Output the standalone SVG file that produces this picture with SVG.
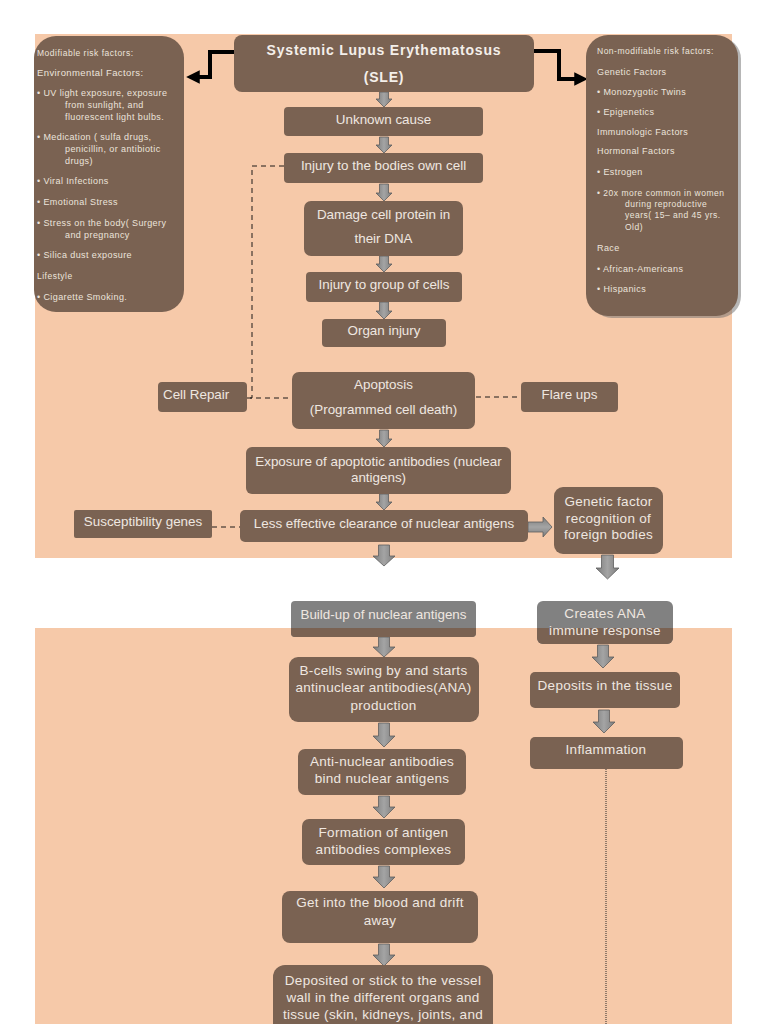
<svg xmlns="http://www.w3.org/2000/svg" width="768" height="1024" viewBox="0 0 768 1024">
<defs>
<style>
.bg{fill:#f6c9a9}
.box{fill:#7a6252}
.gbox{fill:#818181}
.side{fill:#7a6252}
.t{font-family:"Liberation Sans",Arial,sans-serif;font-size:13.4px;fill:#efe7e0;text-anchor:middle}
.t2{font-family:"Liberation Sans",Arial,sans-serif;font-size:13.5px;letter-spacing:0.3px;fill:#efe7e0;text-anchor:middle}
.title{font-family:"Liberation Sans",Arial,sans-serif;font-size:14px;font-weight:bold;letter-spacing:0.8px;fill:#f4efea;text-anchor:middle}
.s{font-family:"Liberation Sans",Arial,sans-serif;font-size:9px;letter-spacing:0.4px;fill:#ece4dc}
.sh{font-family:"Liberation Sans",Arial,sans-serif;font-size:8.5px;letter-spacing:0.5px;fill:#ece4dc}
.arr{fill:url(#ag);stroke:#5e5e5e;stroke-width:0.8}
.dash{fill:none;stroke:#1e1a18;stroke-width:1;stroke-dasharray:5 4}
.elbow{fill:none;stroke:#000;stroke-width:4}
.dot{fill:none;stroke:#2a2a2a;stroke-width:1;stroke-dasharray:1 1}
</style>
<linearGradient id="ag" x1="0" y1="0" x2="1" y2="0">
<stop offset="0" stop-color="#7c7c7c"/>
<stop offset="0.5" stop-color="#a4a4a4"/>
<stop offset="1" stop-color="#7c7c7c"/>
</linearGradient>
<linearGradient id="agh" x1="0" y1="0" x2="0" y2="1">
<stop offset="0" stop-color="#7c7c7c"/>
<stop offset="0.5" stop-color="#a4a4a4"/>
<stop offset="1" stop-color="#7c7c7c"/>
</linearGradient>
<marker id="bh" viewBox="0 0 10 10" refX="2" refY="5" markerWidth="3.8" markerHeight="3.4" orient="auto">
<path d="M0,0 L10,5 L0,10 Z" fill="#000"/>
</marker>
<clipPath id="lower"><rect x="0" y="628" width="768" height="396"/></clipPath>
</defs>

<rect width="768" height="1024" fill="#ffffff"/>
<rect class="bg" x="35" y="34" width="697" height="524"/>
<rect class="bg" x="35" y="628" width="697" height="396"/>

<g id="connectors">
<path class="elbow" d="M234,52 H210 V77 H197" marker-end="url(#bh)"/>
<path class="elbow" d="M534,51 H559 V79 H577" marker-end="url(#bh)"/>
<path class="dash" d="M284,166 H252 V398 H247"/>
<path class="dash" d="M247,398 H292"/>
<path class="dash" d="M476,397 H521"/>
<path class="dash" d="M212,527 H240"/>
<path class="dot" d="M606,769 V1024"/>
<path class="arr" d="M379.5,92 H388.5 V99 H392 L384,107 L376,99 H379.5 Z"/>
<path class="arr" d="M379.5,137 H388.5 V145 H392 L384,153 L376,145 H379.5 Z"/>
<path class="arr" d="M379.5,184 H388.5 V193 H392 L384,201 L376,193 H379.5 Z"/>
<path class="arr" d="M379.5,256 H388.5 V264 H392 L384,272 L376,264 H379.5 Z"/>
<path class="arr" d="M379.5,302 H388.5 V311 H392 L384,319 L376,311 H379.5 Z"/>
<path class="arr" d="M379.5,430 H388.5 V439 H392 L384,447 L376,439 H379.5 Z"/>
<path class="arr" d="M379.5,494 H388.5 V502 H392 L384,510 L376,502 H379.5 Z"/>
<path d="M528,522 H543 V517 L552,527 L543,537 V532 H528 Z" fill="url(#agh)" stroke="#5e5e5e" stroke-width="0.8"/>
<path class="arr" d="M378.5,545 H389.5 V556 H395 L384,566 L373,556 H378.5 Z"/>
<path class="arr" d="M601.5,555 H613.5 V568 H619 L607.5,579 L596,568 H601.5 Z"/>
<path class="arr" d="M378.5,637 H389.5 V647 H395 L384,657 L373,647 H378.5 Z"/>
<path class="arr" d="M597.5,645 H608.5 V657 H614 L603,668 L592,657 H597.5 Z"/>
<path class="arr" d="M598.5,710 H609.5 V722 H615 L604,733 L593,722 H598.5 Z"/>
<path class="arr" d="M378.5,723 H389.5 V736 H395 L384,747 L373,736 H378.5 Z"/>
<path class="arr" d="M378.5,796 H389.5 V807 H395 L384,818 L373,807 H378.5 Z"/>
<path class="arr" d="M378.5,866 H389.5 V877 H395 L384,888 L373,877 H378.5 Z"/>
<path class="arr" d="M378.5,944 H389.5 V955 H395 L384,966 L373,955 H378.5 Z"/>
</g>

<g id="modifiable">
<rect class="side" x="34" y="36" width="150" height="276" rx="22"/>
<text class="sh" x="37" y="55.5">Modifiable risk factors:</text>
<text class="s" x="37" y="75.5" style="font-size:9.5px">Environmental Factors:</text>
<text class="s" x="37" y="96">• UV light exposure, exposure</text>
<text class="s" x="65" y="108">from sunlight, and</text>
<text class="s" x="65" y="120">fluorescent light bulbs.</text>
<text class="s" x="37" y="140">• Medication ( sulfa drugs,</text>
<text class="s" x="65" y="152">penicillin, or antibiotic</text>
<text class="s" x="65" y="164">drugs)</text>
<text class="s" x="37" y="184">• Viral Infections</text>
<text class="s" x="37" y="205">• Emotional Stress</text>
<text class="s" x="37" y="226">• Stress on the body( Surgery</text>
<text class="s" x="65" y="238">and pregnancy</text>
<text class="s" x="37" y="258">• Silica dust exposure</text>
<text class="sh" x="37" y="279">Lifestyle</text>
<text class="s" x="37" y="300">• Cigarette Smoking.</text>
</g>

<g id="nonmodifiable">
<rect x="590" y="37" width="151" height="281" rx="22" fill="#6d6d6d" opacity="0.5"/>
<rect class="side" x="586" y="35" width="152" height="281" rx="22"/>
<text class="sh" x="597" y="54">Non-modifiable risk factors:</text>
<text class="s" x="597" y="74.5">Genetic Factors</text>
<text class="s" x="597" y="94.5">• Monozygotic Twins</text>
<text class="s" x="597" y="114.5">• Epigenetics</text>
<text class="s" x="597" y="134.5">Immunologic Factors</text>
<text class="s" x="597" y="154">Hormonal Factors</text>
<text class="s" x="597" y="175">• Estrogen</text>
<text class="sh" x="597" y="195.5">• 20x more common in women</text>
<text class="sh" x="625" y="206.5">during reproductive</text>
<text class="sh" x="625" y="218">years( 15– and 45 yrs.</text>
<text class="sh" x="625" y="230">Old)</text>
<text class="s" x="597" y="251">Race</text>
<text class="s" x="597" y="271.5">• African-Americans</text>
<text class="s" x="597" y="292">• Hispanics</text>
</g>

<g id="sle">
<rect class="box" x="234" y="35" width="300" height="57" rx="8"/>
<text class="title" x="384" y="55">Systemic Lupus Erythematosus</text>
<text class="title" x="384" y="82">(SLE)</text>
</g>

<g id="unknown">
<rect class="box" x="284" y="107" width="199" height="29" rx="4"/>
<text class="t" x="383.5" y="123.5">Unknown cause</text>
</g>

<g id="injury-cell">
<rect class="box" x="284" y="153" width="199" height="30" rx="4"/>
<text class="t" x="383.5" y="170">Injury to the bodies own cell</text>
</g>

<g id="damage">
<rect class="box" x="304" y="201" width="159" height="55" rx="7"/>
<text class="t" x="383.5" y="218.5">Damage cell protein in</text>
<text class="t" x="383.5" y="243">their DNA</text>
</g>

<g id="injury-group">
<rect class="box" x="306" y="272" width="156" height="30" rx="4"/>
<text class="t" x="384" y="288.5">Injury to group of cells</text>
</g>

<g id="organ">
<rect class="box" x="322" y="319" width="124" height="28" rx="4"/>
<text class="t" x="384" y="334.5">Organ injury</text>
</g>

<g id="cell-repair">
<rect class="box" x="158" y="382" width="89" height="30" rx="4"/>
<text class="t" x="163" y="398.5" style="text-anchor:start">Cell Repair</text>
</g>

<g id="apoptosis">
<rect class="box" x="292" y="372" width="183" height="57" rx="7"/>
<text class="t" x="383.5" y="389">Apoptosis</text>
<text class="t" x="383.5" y="413.5">(Programmed cell death)</text>
</g>

<g id="flare">
<rect class="box" x="521" y="382" width="97" height="30" rx="4"/>
<text class="t" x="569.5" y="398.5">Flare ups</text>
</g>

<g id="exposure">
<rect class="box" x="246" y="447" width="265" height="47" rx="6"/>
<text class="t" x="378.5" y="465.5">Exposure of apoptotic antibodies (nuclear</text>
<text class="t" x="378.5" y="481.5">antigens)</text>
</g>

<g id="susceptibility">
<rect class="box" x="74" y="510" width="138" height="28" rx="2"/>
<text class="t" x="143" y="525.5">Susceptibility genes</text>
</g>

<g id="clearance">
<rect class="box" x="240" y="510" width="288" height="32" rx="5"/>
<text class="t" x="384" y="527.5">Less effective clearance of nuclear antigens</text>
</g>

<g id="genetic">
<rect class="box" x="554" y="487" width="109" height="67" rx="9"/>
<text class="t2" x="608.5" y="505.5">Genetic factor</text>
<text class="t2" x="608.5" y="522.5">recognition of</text>
<text class="t2" x="608.5" y="539">foreign bodies</text>
</g>

<g id="buildup">
<rect class="gbox" x="291" y="601" width="185" height="36" rx="4"/>
<rect class="box" x="291" y="601" width="185" height="36" rx="4" clip-path="url(#lower)"/>
<text class="t" x="383.5" y="618.5">Build-up of nuclear antigens</text>
</g>

<g id="creates-ana">
<rect class="gbox" x="537" y="601" width="136" height="43" rx="6"/>
<rect class="box" x="537" y="601" width="136" height="43" rx="6" clip-path="url(#lower)"/>
<text class="t2" x="605" y="617.5">Creates ANA</text>
<text class="t2" x="605" y="634.5">immune  response</text>
</g>

<g id="bcells">
<rect class="box" x="289" y="657" width="190" height="65" rx="9"/>
<text class="t2" x="383.5" y="675">B-cells swing by and starts</text>
<text class="t2" x="383.5" y="692">antinuclear antibodies(ANA)</text>
<text class="t2" x="383.5" y="709.5">production</text>
</g>

<g id="deposits-tissue">
<rect class="box" x="530" y="672" width="150" height="36" rx="5"/>
<text class="t2" x="605" y="689.5">Deposits in the tissue</text>
</g>

<g id="inflammation">
<rect class="box" x="530" y="737" width="153" height="32" rx="5"/>
<text class="t2" x="606" y="754">Inflammation</text>
</g>

<g id="anti-nuclear">
<rect class="box" x="298" y="749" width="168" height="46" rx="7"/>
<text class="t2" x="382" y="766">Anti-nuclear antibodies</text>
<text class="t2" x="382" y="783">bind nuclear antigens</text>
</g>

<g id="formation">
<rect class="box" x="302" y="819" width="163" height="46" rx="7"/>
<text class="t2" x="383.5" y="837">Formation of antigen</text>
<text class="t2" x="383.5" y="853.5">antibodies complexes</text>
</g>

<g id="blood">
<rect class="box" x="282" y="891" width="196" height="52" rx="8"/>
<text class="t2" x="380" y="907">Get into the blood and drift</text>
<text class="t2" x="380" y="924.5">away</text>
</g>

<g id="deposited">
<rect class="box" x="273" y="965" width="220" height="80" rx="12"/>
<text class="t2" x="383" y="985">Deposited or stick to the vessel</text>
<text class="t2" x="383" y="1002">wall in the different organs and</text>
<text class="t2" x="383" y="1018.5">tissue (skin, kidneys, joints, and</text>
</g>
</svg>
